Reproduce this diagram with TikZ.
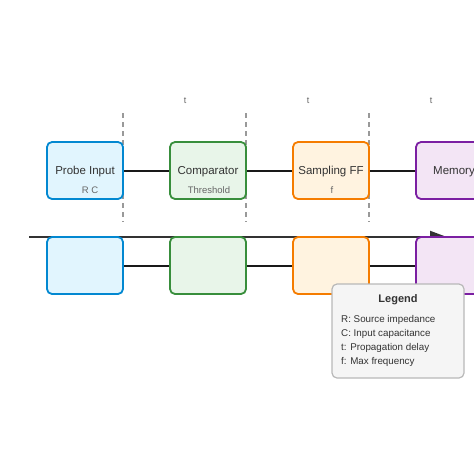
\documentclass[tikz,border=0pt]{standalone}
\usepackage{fontspec}
\setmainfont{Liberation Sans}
\usepackage{tikz}
\usetikzlibrary{arrows.meta}
\definecolor{probeFill}{HTML}{E1F5FE}
\definecolor{probeLine}{HTML}{0288D1}
\definecolor{compFill}{HTML}{E8F5E9}
\definecolor{compLine}{HTML}{388E3C}
\definecolor{sampFill}{HTML}{FFF3E0}
\definecolor{sampLine}{HTML}{F57C00}
\definecolor{memFill}{HTML}{F3E5F5}
\definecolor{memLine}{HTML}{7B1FA2}
\definecolor{txtDark}{HTML}{333333}
\definecolor{txtGray}{HTML}{666666}
\definecolor{dashGray}{HTML}{999999}
\tikzset{%
  tipA/.tip={Triangle[length=17pt,width=12pt]},
  block/.style={draw, rounded corners=5pt, line width=1.8pt, minimum width=76pt,
    minimum height=57pt, inner sep=0pt, text height=11pt, text depth=2.4pt,
    text=txtDark, font=\fontsize{11.5}{13}\selectfont},
  sublabel/.style={text=txtGray, font=\fontsize{9.5}{11}\selectfont, inner sep=0pt},
  wire/.style={line width=2pt, black!90}
}

\begin{document}
\begin{tikzpicture}[x=1pt,y=-1pt]
\useasboundingbox (0,0) rectangle (474,474);
\clip (0,0) rectangle (474,474);
% time axis
\coordinate (axisL) at (29,237);
\coordinate (axisR) at (447,237);
\draw[line width=2pt, color=txtDark, -tipA] (axisL) -- (axisR);
% dashed stage boundaries
\foreach \xx in {123,246,369}{
  \draw[dashed, dash pattern=on 5pt off 4pt, line width=1.2pt, color=dashGray] (\xx,113) -- (\xx,222);
}
\foreach \xx in {185,308,431}{
  \node[sublabel, font=\fontsize{9}{10}\selectfont] at (\xx,101) {t};
}
% upper row
\node[block, fill=probeFill, draw=probeLine] (probe) at (85,170.5) {Probe Input};
\node[block, fill=compFill, draw=compLine] (comp) at (208,170.5) {Comparator};
\node[block, fill=sampFill, draw=sampLine] (samp) at (331,170.5) {Sampling FF};
\node[block, fill=memFill, draw=memLine] (mem) at (454,170.5) {Memory};
\node[sublabel] (probeSub) at (90,190.5) {R C};
\node[sublabel] (compSub) at (209,190.5) {Threshold};
\node[sublabel] (sampSub) at (332,190.5) {f};
% lower row
\node[block, fill=probeFill, draw=probeLine] (probeB) at (85,265.5) {};
\node[block, fill=compFill, draw=compLine] (compB) at (208,265.5) {};
\node[block, fill=sampFill, draw=sampLine] (sampB) at (331,265.5) {};
\node[block, fill=memFill, draw=memLine] (memB) at (454,265.5) {};
% connectors
\draw[wire] (probe) -- (comp);
\draw[wire] (comp) -- (samp);
\draw[wire] (samp) -- (mem);
\draw[wire] (probeB) -- (compB);
\draw[wire] (compB) -- (sampB);
\draw[wire] (sampB) -- (memB);
% legend
\node[draw=dashGray!70, fill=black!4, line width=1.2pt, rounded corners=5pt,
  minimum width=132pt, minimum height=94pt] (legend) at (398,331) {};
\node[text=txtDark, font=\fontsize{11}{13}\selectfont\bfseries] (legendTitle) at (398,299.5) {Legend};
\node[anchor=west, inner sep=0pt, text=txtDark, font=\fontsize{9.8}{11}\selectfont, align=left] (legendText) at (341,341)
  {R: Source impedance\\[3.3pt]C: Input capacitance\\[3.3pt]t: Propagation delay\\[3.3pt]f: Max frequency};
\end{tikzpicture}
\end{document}
